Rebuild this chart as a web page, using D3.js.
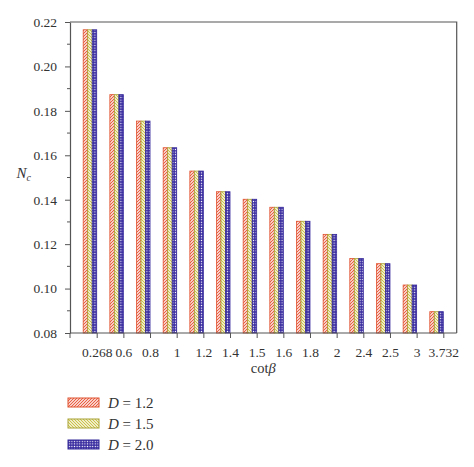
<!DOCTYPE html>
<html>
<head>
<meta charset="utf-8">
<script src="https://cdn.jsdelivr.net/npm/d3@7"></script>
<style>
  body { margin: 0; background: #fff; }
  svg { display: block; font-family: "Liberation Serif", "DejaVu Serif", serif; }
</style>
</head>
<body>
<svg id="chart" width="474" height="467"></svg>
<script>
// Chart data
const categories = ['0.268', '0.6', '0.8', '1', '1.2', '1.4', '1.5', '1.6', '1.8', '2', '2.4', '2.5', '3', '3.732'];
const seriesNames = ['D = 1.2', 'D = 1.5', 'D = 2.0'];
const valuesD12 = [0.2165, 0.1873, 0.1754, 0.1634, 0.1529, 0.1436, 0.1402, 0.1366, 0.1303, 0.1244, 0.1135, 0.1112, 0.1016, 0.0896];
const valuesD15 = [0.2165, 0.1873, 0.1754, 0.1634, 0.1529, 0.1436, 0.1402, 0.1366, 0.1303, 0.1244, 0.1135, 0.1112, 0.1016, 0.0896];
const valuesD20 = [0.2165, 0.1873, 0.1754, 0.1634, 0.1529, 0.1436, 0.1402, 0.1366, 0.1303, 0.1244, 0.1135, 0.1112, 0.1016, 0.0896];
const yTicks = [0.08, 0.10, 0.12, 0.14, 0.16, 0.18, 0.20, 0.22];

const series = [
    { name: 'D', value: '1.2', values: valuesD12, pattern: 'hatchRed', stroke: '#e0502e' },
    { name: 'D', value: '1.5', values: valuesD15, pattern: 'hatchYellow', stroke: '#aaa236' },
    { name: 'D', value: '2.0', values: valuesD20, pattern: 'dotsBlue', stroke: '#35289a' }
];

const frame = { left: 70, right: 456.7, top: 22, bottom: 333 };
const axisColor = '#555';
const textColor = '#333';
const serif = '"Liberation Serif", "DejaVu Serif", serif';

const svg = d3.select('#chart');

// Fill patterns
const defs = svg.append('defs');

const red = defs.append('pattern')
    .attr('id', 'hatchRed')
    .attr('patternUnits', 'userSpaceOnUse')
    .attr('width', 3).attr('height', 3);
red.append('rect').attr('width', 3).attr('height', 3).attr('fill', '#fff');
red.append('path')
    .attr('d', 'M-1,1 l2,-2 M0,3 l3,-3 M2,4 l2,-2')
    .attr('stroke', '#e8583a').attr('stroke-width', 1.1);

const yellow = defs.append('pattern')
    .attr('id', 'hatchYellow')
    .attr('patternUnits', 'userSpaceOnUse')
    .attr('width', 3).attr('height', 3);
yellow.append('rect').attr('width', 3).attr('height', 3).attr('fill', '#fff');
yellow.append('path')
    .attr('d', 'M-1,2 l2,2 M0,0 l3,3 M2,-1 l2,2')
    .attr('stroke', '#c9c040').attr('stroke-width', 1.1);

const blue = defs.append('pattern')
    .attr('id', 'dotsBlue')
    .attr('patternUnits', 'userSpaceOnUse')
    .attr('width', 2.6).attr('height', 2.6);
blue.append('rect').attr('width', 2.6).attr('height', 2.6).attr('fill', '#3d30a2');
blue.append('circle').attr('cx', 1.3).attr('cy', 1.3).attr('r', 0.65).attr('fill', '#fff');

// Scales
const x = d3.scalePoint()
    .domain(categories)
    .range([96.7, 443.3]);

const groupWidth = 13.5;
const xInner = d3.scaleBand()
    .domain(d3.range(series.length))
    .range([-groupWidth, 0]);

const y = d3.scaleLinear()
    .domain([0.08, 0.22])
    .range([frame.bottom, frame.top]);

// Bars
const groups = svg.append('g')
    .attr('class', 'bars')
    .selectAll('g')
    .data(series)
    .join('g');

groups.selectAll('rect')
    .data(s => s.values.map((v, i) => ({ cat: categories[i], v, s })))
    .join('rect')
    .attr('x', (d) => x(d.cat) + xInner(series.indexOf(d.s)))
    .attr('y', d => y(d.v))
    .attr('width', xInner.bandwidth())
    .attr('height', d => y(0.08) - y(d.v))
    .attr('fill', d => `url(#${d.s.pattern})`)
    .attr('stroke', d => d.s.stroke)
    .attr('stroke-width', 0.8);

// Frame (top and right)
svg.append('path')
    .attr('d', `M${frame.left},${frame.top}H${frame.right}V${frame.bottom}`)
    .attr('fill', 'none')
    .attr('stroke', axisColor)
    .attr('stroke-width', 1.2);

// Y axis with minor ticks
const yAxis = svg.append('g')
    .attr('transform', `translate(${frame.left},0)`)
    .call(d3.axisLeft(y).tickValues(yTicks).tickFormat(d3.format('.2f')).tickSize(5).tickSizeOuter(0).tickPadding(8));

const minor = yTicks.slice(0, -1).map(t => t + 0.01);
yAxis.selectAll('line.minor')
    .data(minor)
    .join('line')
    .attr('class', 'minor')
    .attr('x1', -3).attr('x2', 0)
    .attr('y1', d => y(d)).attr('y2', d => y(d))
    .attr('stroke', axisColor);

// X axis
const xAxis = svg.append('g')
    .attr('transform', `translate(0,${frame.bottom})`)
    .call(d3.axisBottom(x).tickSize(5).tickSizeOuter(0).tickPadding(9));

xAxis.select('.domain')
    .attr('d', `M${frame.left},0H${frame.right}`);
xAxis.append('line')
    .attr('x1', frame.left).attr('x2', frame.left)
    .attr('y1', 0).attr('y2', 5)
    .attr('stroke', axisColor);

[yAxis, xAxis].forEach(a => {
    a.attr('font-family', serif);
    a.select('.domain').attr('stroke', axisColor).attr('stroke-width', 1.2);
    a.selectAll('.tick line').attr('stroke', axisColor);
    a.selectAll('.tick text')
        .attr('fill', textColor)
        .style('font-family', serif)
        .style('font-size', '13.5px');
});

// Axis titles
const yTitle = svg.append('text')
    .attr('x', 16.5).attr('y', 178)
    .attr('fill', textColor)
    .style('font-family', serif)
    .style('font-size', '15px')
    .style('font-style', 'italic');
yTitle.append('tspan').text('N');
yTitle.append('tspan').attr('dy', 2.5).style('font-size', '10px').text('c');

const xTitle = svg.append('text')
    .attr('x', (frame.left + frame.right) / 2).attr('y', 373)
    .attr('text-anchor', 'middle')
    .attr('fill', textColor)
    .style('font-family', serif)
    .style('font-size', '14.5px');
xTitle.append('tspan').text('cot');
xTitle.append('tspan').style('font-style', 'italic').text('β');

// Legend
const legend = svg.append('g')
    .attr('transform', 'translate(68,398)')
    .selectAll('g')
    .data(series)
    .join('g')
    .attr('transform', (d, i) => `translate(0,${i * 21})`);

legend.append('rect')
    .attr('width', 31).attr('height', 9)
    .attr('fill', d => `url(#${d.pattern})`)
    .attr('stroke', d => d.stroke)
    .attr('stroke-width', 1);

const label = legend.append('text')
    .attr('x', 40).attr('y', 9.5)
    .attr('fill', textColor)
    .style('font-family', serif)
    .style('font-size', '15px');
label.append('tspan').style('font-style', 'italic').text(d => d.name);
label.append('tspan').text(d => ` = ${d.value}`);
</script>
</body>
</html>
